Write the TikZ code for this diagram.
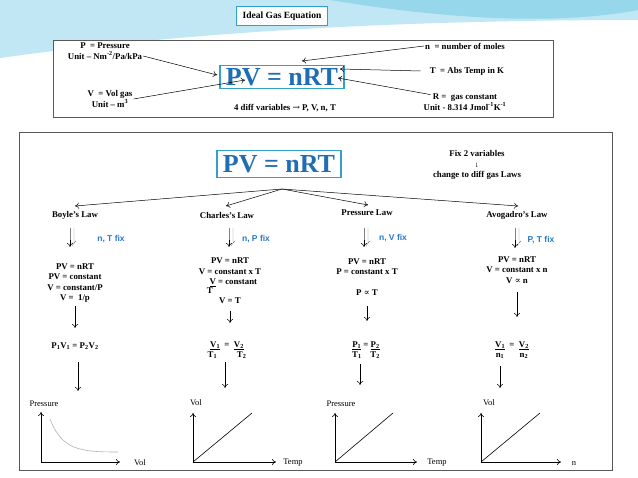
\documentclass[tikz,border=0pt]{standalone}
\usepackage{fontspec}
\setmainfont{Liberation Serif}
\newfontfamily\symf{DejaVu Serif}
\newfontfamily\arial{Liberation Sans}
\usetikzlibrary{arrows.meta}
\definecolor{eqblue}{RGB}{31,110,180}
\definecolor{boxblue}{RGB}{50,160,200}
\definecolor{fixblue}{RGB}{40,120,200}
\definecolor{swoosh}{RGB}{150,215,235}
\tikzset{
  txt/.style={font=\bfseries\fontsize{8.8}{10.5}\selectfont, align=center, inner sep=1pt},
  big/.style={draw=boxblue, line width=1.2pt, text=eqblue, font=\bfseries\fontsize{26}{28}\selectfont, inner xsep=6pt, inner ysep=3pt},
  frame/.style={draw=gray!70!black, line width=0.8pt},
  arr/.style={-{To[length=4pt,width=6pt]}, line width=0.5pt},
  tip/.style={-{To[length=4pt,width=6pt]}, line width=0.5pt},
  fix/.style={font=\arial\bfseries\fontsize{8.5}{9}\selectfont, text=fixblue, inner sep=1pt},
  axis/.style={-{To[length=4pt,width=6pt]}, line width=0.6pt},
  ax/.style={font=\fontsize{8.5}{9}\selectfont, inner sep=1pt}
}
\newcommand{\fixarrow}[2]{%
  \draw[gray, line width=0.4pt] (#1,228) -- (#1,245);
  \draw[gray, line width=0.4pt] (#1+4,228) -- (#1+4,243) -- (#1+2,246) (#1+4,243) -- (#1+6,241);
  \draw[tip] (#1,240) -- (#1,#2);}
\begin{document}
\begin{tikzpicture}[x=1pt,y=-1pt]
\useasboundingbox (0,0) rectangle (638,478);
\fill[white] (0,0) rectangle (638,478);
% decorative swoosh
\fill[swoosh!60] (0,58) .. controls (200,30) and (420,20) .. (638,20) -- (638,0) -- (0,0) -- cycle;
\fill[swoosh] (330,0) .. controls (450,20) and (560,25) .. (638,10) -- (638,0) -- cycle;
\fill[white] (0,64) .. controls (200,36) and (420,28) .. (638,30) -- (638,42) .. controls (420,40) and (200,48) .. (0,72) -- cycle;
% ===== top panel =====
\node[draw=boxblue, line width=1pt, fill=white, txt, font=\bfseries\fontsize{9.5}{10}\selectfont, inner xsep=6pt, inner ysep=5pt] (title) at (282,16) {Ideal Gas Equation};
\draw[frame, fill=white] (53,40) rectangle (553,117);
\node[big, fill=white] (eq1) at (282,77) {PV = nRT};
\node[txt] (p) at (105,51) {P\ \ = Pressure\\Unit -- Nm\textsuperscript{-2}/Pa/kPa};
\node[txt] (v) at (110,99) {V \ = Vol gas\\Unit -- m\textsuperscript{3}};
\node[txt] (n) at (465,46) {n \ = number of moles};
\node[txt] (t) at (467,71) {T \ = Abs Temp in K};
\node[txt] (r) at (465,102) {R = \ gas constant\\Unit - 8.314 Jmol\textsuperscript{-1}K\textsuperscript{-1}};
\node[txt] (four) at (285,108) {4 diff variables {\symf\mdseries →} P, V, n, T};
\coordinate (pe) at (217,75); \coordinate (ve) at (245,80);
\coordinate (ne) at (302,61); \coordinate (te) at (340,69); \coordinate (re) at (338,78);
\draw[arr] (p.east) ++(0,5) -- (pe);
\draw[arr] (v.east) -- (ve);
\draw[arr] (n.west) -- (ne);
\draw[arr] (t.west) ++(-8,0) -- (te);
\draw[arr] (r.north west) ++(8,2) -- (re);
% ===== bottom panel =====
\draw[frame, fill=white] (19,132) rectangle (612,470);
\node[big, fill=white, inner ysep=5pt] (eq2) at (279,164) {PV = nRT};
\node[txt] (fix2) at (477,165) {Fix 2 variables\\ {\symf\mdseries\fontsize{6}{7}\selectfont ↓}\\change to diff gas Laws};
\node[txt] (boyle) at (75,215) {Boyle's Law};
\node[txt] (charles) at (227,215) {Charles's Law};
\node[txt] (press) at (367,213) {Pressure Law};
\node[txt] (avo) at (517,215) {Avogadro's Law};
\coordinate (top) at (282,189);
\draw[arr] (top) -- (75,206);
\draw[arr] (top) -- (226,206);
\draw[arr] (top) -- (368,205);
\draw[arr] (top) -- (518,206);
% formulas
\node[txt] (b1) at (75,283) {PV = nRT\\PV = constant\\V = constant/P\\V = \ 1/p};
\node[txt] (c1) at (230,281) {PV = nRT\\V = constant x T\\\ \ \ \underline{V} = constant\\[-2pt]\hspace*{-4.6em}T\\V = T};
\node[txt] (p1) at (367,277) {PV = nRT\\P = constant x T\\[10pt]P {\symf\mdseries ∝} T};
\node[txt] (a1) at (517,270) {PV = nRT\\V = constant x n\\V {\symf\mdseries ∝} n};
\fixarrow{70}{247}
\fixarrow{229}{247}
\fixarrow{364}{247}
\fixarrow{515}{248}
\node[fix] at (111,239) {n, T fix};
\node[fix] at (256,239) {n, P fix};
\node[fix] at (393,238) {n, V fix};
\node[fix] at (541,240) {P, T fix};
% second formulas
\node[txt] (b2) at (75,346) {P\textsubscript{1}V\textsubscript{1} = P\textsubscript{2}V\textsubscript{2}};
\node[txt] (c2) at (227,350) {\underline{V\textsubscript{1}} \ = \ \underline{V\textsubscript{2}}\\T\textsubscript{1} \qquad T\textsubscript{2}};
\node[txt] (p2) at (366,350) {\underline{P\textsubscript{1}} = \underline{P\textsubscript{2}}\\T\textsubscript{1} \ \ \ T\textsubscript{2}};
\node[txt] (a2) at (512,350) {\underline{V\textsubscript{1}} \ = \ \underline{V\textsubscript{2}}\\n\textsubscript{1} \quad\ \ n\textsubscript{2}};
\draw[arr] (75,306) -- (75,328);
\draw[arr] (230,311) -- (230,323);
\draw[arr] (367,306) -- (367,321);
\draw[arr] (517,292) -- (517,317);
\draw[arr] (78,362) -- (78,391);
\draw[arr] (225,362) -- (225,388);
\draw[arr] (360,364) -- (360,385);
\draw[arr] (500,366) -- (500,388);
% graphs
\coordinate (g1) at (41,462); \coordinate (g2) at (193,462);
\coordinate (g3) at (335,462); \coordinate (g4) at (481,462);
\draw[axis] (g1) -- (41,412); \draw[axis] (g1) -- (120,462);
\node[ax] at (44,404) {Pressure}; \node[ax] at (140,463) {Vol};
\draw[gray!60, line width=0.6pt] (50,419) .. controls (62,450) and (80,452) .. (118,452);
\draw[axis] (g2) -- (193,413); \draw[axis] (g2) -- (276,462);
\node[ax] at (196,403) {Vol}; \node[ax] at (293,463) {Temp};
\draw[line width=0.6pt] (g2) -- (252,413);
\draw[axis] (g3) -- (335,413); \draw[axis] (g3) -- (417,462);
\node[ax] at (341,404) {Pressure}; \node[ax] at (437,463) {Temp};
\draw[line width=0.6pt] (g3) -- (393,413);
\draw[axis] (g4) -- (481,413); \draw[axis] (g4) -- (561,462);
\node[ax] at (489,403) {Vol}; \node[ax] at (574,463) {n};
\draw[line width=0.6pt] (g4) -- (540,413);
\end{tikzpicture}
\end{document}
